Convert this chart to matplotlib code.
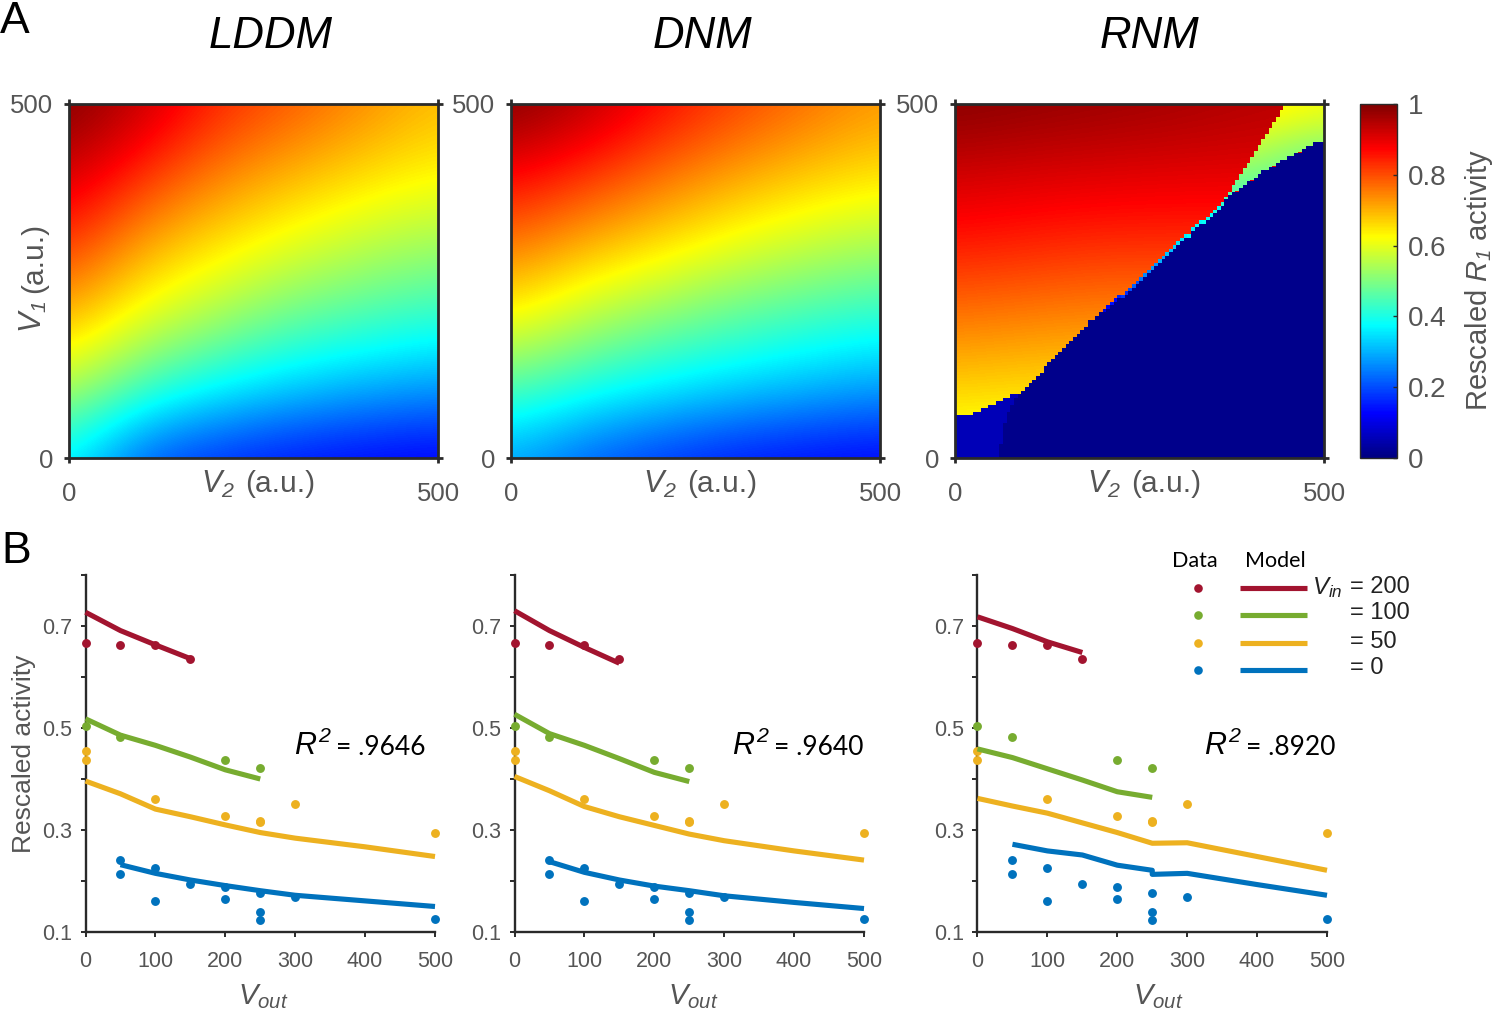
import matplotlib
matplotlib.use("Agg")
import matplotlib.pyplot as plt
import numpy as np
from matplotlib.cm import ScalarMappable
from matplotlib.colors import LinearSegmentedColormap, Normalize
from matplotlib.lines import Line2D
from matplotlib.patches import Polygon

plt.rcParams['font.family'] = ['Liberation Sans', 'DejaVu Sans']
plt.rcParams['mathtext.fontset'] = 'custom'
plt.rcParams['mathtext.rm'] = 'Liberation Sans'
plt.rcParams['mathtext.it'] = 'Liberation Sans:italic'
plt.rcParams['mathtext.sf'] = 'Liberation Sans:italic'

# heatmap values, rows are V1 = 0..500, columns V2 = 0..500 (step 100)
lddm_grid = [
    [.36, .20, .16, .135, .12, .11],
    [.56, .44, .375, .33, .30, .28],
    [.70, .60, .54, .48, .45, .42],
    [.825, .71, .65, .60, .56, .53],
    [.925, .83, .75, .70, .66, .63],
    [1.0, .935, .84, .79, .74, .69],
]
dnm_grid = [
    [.28, .21, .17, .14, .125, .115],
    [.46, .405, .365, .335, .31, .285],
    [.63, .56, .51, .47, .44, .415],
    [.76, .70, .655, .605, .57, .54],
    [.88, .83, .77, .72, .68, .655],
    [1.0, .95, .875, .815, .77, .725],
]
rnm_top_grid = [
    [.58, .58, .58, .58, .58, .58],
    [.67, .66, .66, .66, .66, .66],
    [.76, .75, .74, .74, .74, .74],
    [.85, .84, .83, .83, .83, .83],
    [.92, .91, .905, .90, .90, .90],
    [.995, .985, .975, .965, .95, .94],
]
# wedge at top right of RNM, rows V1 = 350..500, columns V2 = 350..500 (step 50)
rnm_wedge_grid = [
    [.42, .42, .42, .38],
    [.50, .50, .47, .44],
    [.60, .58, .55, .53],
    [.66, .65, .64, .62],
]
# winner boundary of RNM per 5-wide V2 cell
rnm_lower = [61, 61, 61, 61, 61, 64, 66, 69, 71, 73,
             75, 79, 82, 84, 86, 88, 90, 92, 96, 101,
             106, 111, 116, 122, 128, 134, 140, 144, 149, 154,
             159, 165, 171, 177, 182, 187, 193, 197, 202, 206,
             211, 215, 220, 224, 228, 232, 237, 241, 246, 250,
             256, 261, 266, 271, 276, 281, 285, 290, 294, 299,
             303, 308, 313, 317, 323, 328, 333, 337, 342, 346,
             351, 355, 360, 365, 369, 373, 377, 381, 385, 389,
             392, 396, 400, 403, 406, 409, 412, 415, 418, 421,
             424, 427, 430, 432, 435, 438, 441, 443, 445, 447]
rnm_upper_start = 73
rnm_upper = [368, 376, 385, 393, 401, 409, 417, 425, 433, 442,
             450, 458, 466, 474, 481, 492, 500, 500, 500, 500,
             500, 500, 500, 500, 500, 500, 500]
rnm_ridge_start = 40
rnm_ridge = [.10, .12, .14, .13, .16, .18, .17, .20, .22, .21,
             .24, .26, .25, .28, .27, .30, .29, .32, .31, .33,
             .35, .34, .36, .38, .36, .38, .37, .38, .39, .38,
             .40, .38, .42]
rnm_low_dark = 0.015
rnm_low_left = 0.055
rnm_edge_v1 = [0, 40, 70, 95]
rnm_edge_v2 = [60, 65, 75, 90]

model_names = ['LDDM', 'DNM', 'RNM']
heat_ticks = [0, 500]
cbar_ticks = [0, 0.2, 0.4, 0.6, 0.8, 1]
cbar_labels = ['0', '0.2', '0.4', '0.6', '0.8', '1']

# data points of panel B, same in each of the three
data_200_x = [0, 50, 100, 150]
data_200_y = [.666, .662, .662, .636]
data_100_x = [0, 50, 200, 250]
data_100_y = [.503, .483, .437, .422]
data_50_x = [0, 0, 100, 200, 250, 250, 300, 500]
data_50_y = [.455, .437, .361, .328, .315, .318, .351, .295]
data_0_x = [50, 50, 100, 100, 150, 200, 200, 250, 250, 250, 300, 500]
data_0_y = [.242, .213, .225, .161, .195, .188, .164, .176, .139, .124, .168, .126]

# model curves of panel B
x_200 = [0, 50, 100, 150]
x_100 = [0, 50, 100, 150, 200, 250]
x_50 = [0, 50, 100, 150, 200, 250, 300, 400, 500]
x_0 = [50, 100, 150, 200, 250, 300, 400, 500]
x_0_rnm = [50, 100, 150, 200, 250, 250, 300, 400, 500]

lddm_200 = [.727, .691, .663, .636]
lddm_100 = [.518, .486, .466, .443, .418, .400]
lddm_50 = [.396, .371, .341, .326, .310, .295, .284, .267, .248]
lddm_0 = [.232, .215, .202, .191, .181, .172, .161, .150]

dnm_200 = [.730, .691, .658, .627]
dnm_100 = [.527, .489, .466, .440, .413, .395]
dnm_50 = [.405, .377, .346, .326, .309, .292, .279, .259, .241]
dnm_0 = [.238, .217, .202, .190, .181, .171, .158, .146]

rnm_200 = [.718, .695, .669, .648]
rnm_100 = [.459, .442, .420, .398, .375, .364]
rnm_50 = [.362, .347, .333, .314, .295, .274, .275, .248, .221]
rnm_0 = [.272, .259, .251, .231, .221, .213, .215, .193, .172]

r2_labels = ['.9646', '.9640', '.8920']
vin_labels = ['= 200', '= 100', '= 50', '= 0']

RED = '#a2142f'
GREEN = '#77ac30'
ORANGE = '#edb120'
BLUE = '#0072bd'
GRAY = '#555555'
DARK = '#2a2a2a'

W, H = 1500, 1015
jet = LinearSegmentedColormap.from_list('matlab_jet', [
    (0, (0, 0, .5)), (.125, (0, 0, 1)), (.375, (0, 1, 1)),
    (.625, (1, 1, 0)), (.875, (1, 0, 0)), (1, (.5, 0, 0))], N=256)

fig = plt.figure(figsize=(15, 10.15), dpi=100)


def add_ax(x0, y0, x1, y1):
    return fig.add_axes([x0 / W, 1 - y1 / H, (x1 - x0) / W, (y1 - y0) / H])


def ftext(x, y, s, **kw):
    return fig.text(x / W, 1 - y / H, s, **kw)


def grid_image(ax, grid, lo, hi):
    # half a step beyond the limits so that the grid nodes sit on the values
    step = (hi - lo) / (len(grid[0]) - 1)
    return ax.imshow(grid, origin='lower', cmap=jet, vmin=0, vmax=1, aspect='auto',
                     interpolation='bicubic', interpolation_stage='data',
                     extent=(lo - step / 2, hi + step / 2, lo - step / 2, hi + step / 2))


def style_heat(ax):
    ax.set_xlim(0, 500)
    ax.set_ylim(0, 500)
    ax.set_xticks(heat_ticks)
    ax.set_yticks(heat_ticks)
    ax.tick_params(direction='out', top=True, right=True, length=3.5, width=2,
                   color=DARK, labelcolor=GRAY, labelsize=18.5)
    ax.tick_params(axis='x', pad=14)
    ax.tick_params(axis='y', pad=8)
    for sp in ax.spines.values():
        sp.set_linewidth(2)
        sp.set_color(DARK)


heat_boxes = [(69, 104, 438, 458), (511, 104, 880, 458), (955, 104, 1324, 458)]
title_x = [271, 703, 1150]
v2_label_x = [201, 643, 1087]

ax_lddm = add_ax(*heat_boxes[0])
grid_image(ax_lddm, lddm_grid, 0, 500)
ax_dnm = add_ax(*heat_boxes[1])
grid_image(ax_dnm, dnm_grid, 0, 500)

ax_rnm = add_ax(*heat_boxes[2])
grid_image(ax_rnm, rnm_top_grid, 0, 500)
wedge = grid_image(ax_rnm, rnm_wedge_grid, 350, 500)
top_edge = []
bottom_edge = []
for i, up in enumerate(rnm_upper):
    col = rnm_upper_start + i
    top_edge += [(col * 5, up), (col * 5 + 5, up)]
    bottom_edge += [(col * 5, rnm_lower[col]), (col * 5 + 5, rnm_lower[col])]
wedge.set_clip_path(Polygon(top_edge + bottom_edge[::-1], transform=ax_rnm.transData))

cells = 2.5 + 5 * np.arange(100)
V2, V1 = np.meshgrid(cells, cells)
low = np.full((100, 100), np.nan)
below = V1 < np.array(rnm_lower)[None, :]
low[below] = rnm_low_dark
low[below & (V2 < np.interp(V1, rnm_edge_v1, rnm_edge_v2))] = rnm_low_left
for i, val in enumerate(rnm_ridge):
    col = rnm_ridge_start + i
    # topmost cell of the lower region in this column
    low[below[:, col].sum() - 1, col] = val
ax_rnm.imshow(np.ma.masked_invalid(low), origin='lower', cmap=jet, vmin=0, vmax=1, aspect='auto',
              interpolation='nearest', extent=(0, 500, 0, 500))

for ax, name, tx, lx in zip([ax_lddm, ax_dnm, ax_rnm], model_names, title_x, v2_label_x):
    style_heat(ax)
    ftext(tx, 48, name, fontsize=31.5, style='italic', ha='center', va='baseline', color='black')
    ftext(lx, 493, r'$\mathit{V}_{\mathsf{2}}$', fontsize=22, color=GRAY, va='baseline')
    ftext(lx + 44, 492, '(a.u.)', fontsize=21.5, color=GRAY, va='baseline')

vert = dict(color=GRAY, rotation=90, rotation_mode='anchor', ha='left', va='baseline')
ftext(42, 333, r'$\mathit{V}_{\mathsf{1}}$', fontsize=22, **vert)
ftext(42, 293, '(a.u.)', fontsize=21.5, **vert)

cax = add_ax(1360, 104, 1397, 458)
cbar = fig.colorbar(ScalarMappable(Normalize(0, 1), jet), cax=cax)
cbar.set_ticks(cbar_ticks)
cbar.set_ticklabels(cbar_labels)
cbar.ax.tick_params(direction='in', length=3, width=1, color=DARK, labelcolor=GRAY, labelsize=20, pad=8)
cbar.outline.set_linewidth(1)
cbar.outline.set_edgecolor(DARK)
ftext(1487, 411, r'Rescaled $\mathit{R}_{\mathsf{1}}$ activity', fontsize=21, **vert)

ftext(0, 33, 'A', fontsize=32, color='black', va='baseline')
ftext(1, 563, 'B', fontsize=32, color='black', va='baseline')

line_boxes = [(85.5, 575, 435, 932), (514.5, 575, 864, 932), (977.5, 575, 1327, 932)]
curves = [
    (lddm_200, lddm_100, lddm_50, lddm_0, x_0),
    (dnm_200, dnm_100, dnm_50, dnm_0, x_0),
    (rnm_200, rnm_100, rnm_50, rnm_0, x_0_rnm),
]
r2_x = [294, 732, 1204]
vout_x = [238, 668, 1133]

for k, box in enumerate(line_boxes):
    ax = add_ax(*box)
    y200, y100, y50, y0, xb = curves[k]
    for xs, ys, c in [(data_200_x, data_200_y, RED), (data_100_x, data_100_y, GREEN),
                      (data_50_x, data_50_y, ORANGE), (data_0_x, data_0_y, BLUE)]:
        ax.plot(xs, ys, 'o', color=c, ms=6.4, mew=0, clip_on=False, zorder=3)
    for xs, ys, c in [(x_200, y200, RED), (x_100, y100, GREEN), (x_50, y50, ORANGE), (xb, y0, BLUE)]:
        ax.plot(xs, ys, color=c, lw=3.7, solid_capstyle='butt', solid_joinstyle='round',
                clip_on=False, zorder=3)
    ax.set_xlim(0, 500)
    ax.set_ylim(0.1, 0.8)
    ax.set_xticks([0, 100, 200, 300, 400, 500])
    ax.set_yticks([0.1, 0.2, 0.3, 0.4, 0.5, 0.6, 0.7, 0.8])
    ax.set_yticklabels(['0.1', '', '0.3', '', '0.5', '', '0.7', ''])
    ax.tick_params(direction='out', length=3.5, width=1.4, color=DARK, labelcolor=GRAY, labelsize=15.5)
    ax.tick_params(axis='x', pad=10)
    ax.tick_params(axis='y', pad=6)
    ax.spines['top'].set_visible(False)
    ax.spines['right'].set_visible(False)
    for side in ['left', 'bottom']:
        ax.spines[side].set_linewidth(1.7)
        ax.spines[side].set_color(DARK)
    ax.patch.set_alpha(0)
    ftext(r2_x[k], 755, r'$\mathit{R}^{\mathsf{2}}$', fontsize=22, color='black', va='baseline')
    ftext(r2_x[k] + 42, 755, '= ' + r2_labels[k], fontsize=19, color='black', va='baseline', family='Lato')
    ftext(vout_x[k], 1004, r'$\mathit{V}_{\mathit{out}}$', fontsize=21, color=GRAY, va='baseline')

ftext(31, 853, 'Rescaled activity', fontsize=19, **vert)

# legend drawn by hand, it sits over the third panel and outside it
ftext(1195, 561, 'Data', fontsize=15.5, family='Lato', ha='center', va='center', color='black')
ftext(1275, 561, 'Model', fontsize=15.5, family='Lato', ha='center', va='center', color='black')
legend_y = [588, 615, 643, 670]
legend_text_y = [587, 613, 642, 668]
for y, ty, c, lab in zip(legend_y, legend_text_y, [RED, GREEN, ORANGE, BLUE], vin_labels):
    fy = 1 - y / H
    fig.add_artist(Line2D([1198 / W], [fy], marker='o', ms=6.2, mew=0, color=c, ls=''))
    fig.add_artist(Line2D([1240 / W, 1307 / W], [fy, fy], color=c, lw=3.7, solid_capstyle='butt'))
    ftext(1350, ty, lab, fontsize=17, va='center', color='#222222')
ftext(1312, 594, r'$\mathit{V}_{\mathit{in}}$', fontsize=17.5, va='baseline', color='#222222')

fig.savefig('out.png', dpi=100)
